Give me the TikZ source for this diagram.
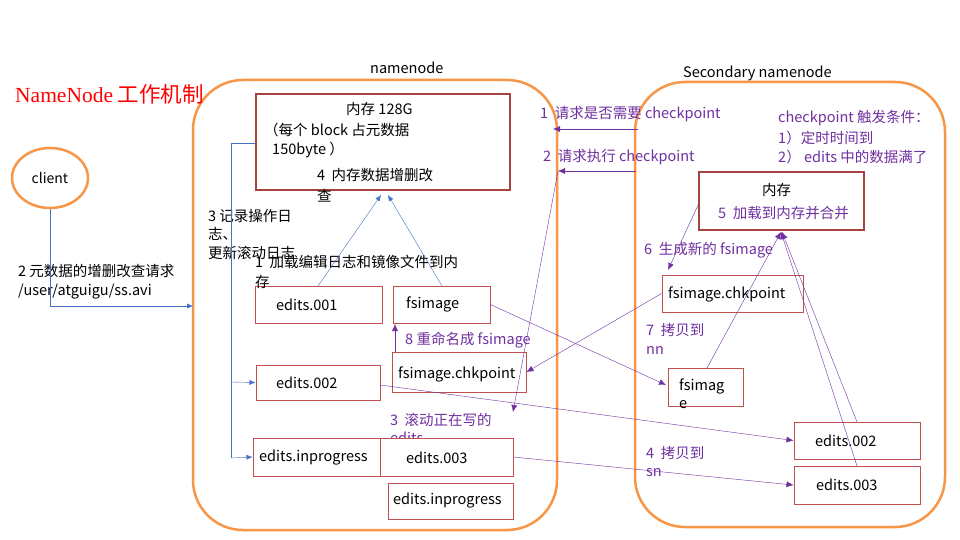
\documentclass[tikz,border=0pt]{standalone}
\usepackage{fontspec}
\usetikzlibrary{arrows.meta,shapes.geometric}
\setmainfont{Noto Sans CJK SC}
\newfontfamily\serf{Liberation Serif}
\newfontfamily\cjks{Noto Sans CJK SC}
\definecolor{pur}{HTML}{7030A0}
\definecolor{blu}{HTML}{4472C4}
\definecolor{rbox}{HTML}{C0504D}
\definecolor{org}{HTML}{F79646}
\begin{document}
\begin{tikzpicture}[x=1pt,y=-1pt,
  t/.style={anchor=west,inner sep=0,font=\fontsize{14.5}{16}\selectfont},
  pt/.style={t,text=pur},
  box/.style={draw=rbox,line width=1pt,fill=white,inner sep=0},
  big/.style={draw=rbox!85!black,line width=2.5pt,inner sep=0},
  cont/.style={draw=org,line width=2.5pt,rounded corners=50pt},
  ba/.style={draw=blu,-{Latex[length=6pt,width=5pt]}},
  pa/.style={draw=pur,-{Latex[length=7pt,width=6pt]}}]
\useasboundingbox (0,0) rectangle (960,540);
\fill[white] (0,0) rectangle (960,540);
% containers
\draw[cont] (193,80) rectangle (557,530);
\draw[cont] (635,82) rectangle (945,527);
\node[t] (lnn) at (370,68) {namenode};
\node[t] (lsn) at (683,73) {Secondary namenode};
\node[anchor=west,inner sep=0,text=red,font=\fontsize{21.5}{24}\selectfont] (title) at (15,94) {{\serf NameNode} \cjks 工作机制};
% client
\node[draw=org,line width=2.5pt,ellipse,minimum width=76pt,minimum height=60pt,inner sep=0,font=\fontsize{14}{16}\selectfont] (client) at (50,178) {client};
% NN memory
\node[big,minimum width=254pt,minimum height=96pt] (mem) at (383,142) {};
\node[t] (m1) at (346,109) {内存 128G};
\node[t] (m2) at (264,130) {（每个 block 占元数据};
\node[t] (m3) at (272,150) {150byte ）};
\node[t] (m4) at (317,175) {4\ \ 内存数据增删改};
\node[t] (m5) at (317,196) {查};
% NN boxes
\node[box,minimum width=127pt,minimum height=37pt] (e1) at (318.5,304.5) {};
\node[t] at (276,304.5) {edits.001};
\node[box,minimum width=97pt,minimum height=37pt] (fs) at (441.5,304.5) {};
\node[t] at (406,304.5) {fsimage};
\node[box,minimum width=134pt,minimum height=40pt] (fc) at (459,372) {};
\node[t] at (398,374) {fsimage.chkpoint};
\node[box,minimum width=124pt,minimum height=35pt] (e2) at (318,382.5) {};
\node[t] at (276,383) {edits.002};
\node[pt] (t3a) at (390,420) {3\ \ 滚动正在写的};
\node[pt] (t3b) at (390,438) {edits};
\node[box,minimum width=127pt,minimum height=38pt] (ei) at (316.5,457) {};
\node[t] at (259,458) {edits.inprogress};
\node[box,minimum width=133pt,minimum height=38pt] (e3) at (446.5,457) {};
\node[t] at (406,458) {edits.003};
\node[box,minimum width=125pt,minimum height=36pt] (ei2) at (450.5,501) {};
\node[t] at (393,501) {edits.inprogress};
% NN text
\node[t] at (208,216) {3 记录操作日};
\node[t] at (208,234) {志、};
\node[t] at (208,253) {更新滚动日志};
\node[t] at (255,262) {1\ \ 加载编辑日志和镜像文件到内};
\node[t] at (255,282) {存};
\node[pt] at (405,340) {8 重命名成 fsimage};
\node[t] at (18,271) {2 元数据的增删改查请求};
\node[t] at (18,292) {/user/atguigu/ss.avi};
% SNN
\node[big,minimum width=165pt,minimum height=58pt] (smem) at (781.5,201) {};
\node[t] at (762,190) {内存};
\node[pt] at (718,213) {5\ \ 加载到内存并合并};
\node[pt] at (778,118) {checkpoint 触发条件：};
\node[pt] at (778,138) {1）定时时间到};
\node[pt] at (778,157) {2）\ edits 中的数据满了};
\node[pt] at (540,114) {1\ \ 请求是否需要 checkpoint};
\node[pt] at (543,157) {2\ \ 请求执行 checkpoint};
\node[pt] at (644,250) {6\ \ 生成新的 fsimage};
\node[box,minimum width=141pt,minimum height=37pt] (sfc) at (732.5,293.5) {};
\node[t] at (668,294) {fsimage.chkpoint};
\node[pt] at (646,330) {7\ \ 拷贝到};
\node[pt] at (646,350) {nn};
\node[box,minimum width=75pt,minimum height=38pt] (sfs) at (705.5,387) {};
\node[t] at (679,386) {fsimag};
\node[t] at (679,405) {e};
\node[box,minimum width=126pt,minimum height=37pt] (se2) at (857,440.5) {};
\node[t] at (815,441) {edits.002};
\node[box,minimum width=126pt,minimum height=38pt] (se3) at (857,485) {};
\node[t] at (816,485) {edits.003};
\node[pt] at (646,453) {4\ \ 拷贝到};
\node[pt] at (646,473) {sn};
% coordinates
\coordinate (r1s) at (638,129); \coordinate (r1e) at (553,129);
\coordinate (r2s) at (636,171); \coordinate (r2e) at (558,171);
\coordinate (roll) at (513,412);
\coordinate (lc) at (231,143);
\coordinate (lb) at (231,458);
% blue
\draw[ba] (client.south) |- (193,306);
\draw[blu] (mem.west |- lc) -- (lc) -- (lb);
\draw[ba] (231,382) -- (e2.west);
\draw[ba] (lb) -- (ei.west);
\draw[ba] (318,286) -- (381,195);
\draw[ba] (442,286) -- (388,195);
% purple
\draw[pa] (r1s) -- (r1e);
\draw[pa] (r2s) -- (r2e);
\draw[pa] (r2e) -- (roll);
\draw[pa] (395,352) -- (395,324);
\draw[pa] (699,203) -- (668,270);
\draw[pa] (sfc.west) -- (fc.east);
\draw[pa] (fs.east) -- (666,385);
\draw[pa] (707,368) -- (781,232);
\draw[pa] (857,422) -- (782,232);
\draw[pa] (857,466) -- (781,232);
\draw[pa] (380,385) -- (se2.west);
\draw[pa] (e3.east) -- (se3.west);
\end{tikzpicture}
\end{document}
